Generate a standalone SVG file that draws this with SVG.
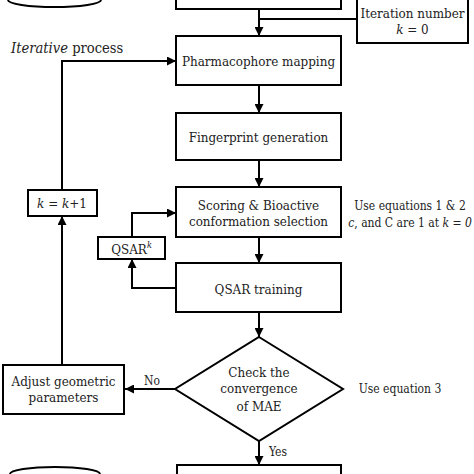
<svg xmlns="http://www.w3.org/2000/svg" width="474" height="474" viewBox="0 0 474 474">
<defs>
<marker id="ah" viewBox="0 0 10 10" refX="10" refY="5" markerWidth="9" markerHeight="9" markerUnits="userSpaceOnUse" orient="auto">
<path d="M0,0 L10,5 L0,10 Z" fill="#000"/>
</marker>
</defs>
<style>
.b{fill:#fff;stroke:#000;stroke-width:2}
text{font-family:'DejaVu Serif Condensed','DejaVu Serif',serif;font-stretch:condensed}
.t{font-size:13.3px;fill:#222;text-anchor:middle}
.s{font-size:12px;fill:#222;text-anchor:middle}
.l{text-anchor:start;font-size:14.6px}
.i{font-style:italic}
.c{fill:none;stroke:#000;stroke-width:2}
.a{fill:none;stroke:#000;stroke-width:2;marker-end:url(#ah)}
</style>
<rect width="474" height="474" fill="#fff"/>
<g id="connectors">
<path class="a" d="M259,9 V36"/>
<path class="c" d="M357,19 H259"/>
<path class="a" d="M259,85 V113"/>
<path class="a" d="M259,160 V187"/>
<path class="a" d="M259,237 V263"/>
<path class="a" d="M259,312 V337"/>
<path class="a" d="M259,441 V465"/>
<path class="a" d="M175,389 H125"/>
<path class="a" d="M62,365 V216"/>
<path class="a" d="M62,190 V61 H176"/>
<path class="a" d="M132,237 V213 H176"/>
<path class="a" d="M176,288 H132 V259"/>
<text class="s" x="152" y="385">No</text>
<text class="s" x="278" y="456">Yes</text>
</g>
<g id="start-db"><path class="b" d="M8,-12 V0 A46.5,7 0 0 0 101,0 V-12"/></g>
<g id="top-box"><rect class="b" x="176" y="-20" width="165" height="29"/></g>
<g id="iteration"><rect class="b" x="357" y="-10" width="111" height="53"/>
<text class="t" x="412.5" y="18">Iteration number</text>
<text class="t" x="412.5" y="34"><tspan class="i">k</tspan> = 0</text></g>
<g id="iterative-label"><text class="t l" x="11" y="53"><tspan class="i">Iterative</tspan> process</text></g>
<g id="pharmacophore"><rect class="b" x="176" y="36" width="165" height="49"/>
<text class="t" x="258.5" y="66">Pharmacophore mapping</text></g>
<g id="fingerprint"><rect class="b" x="176" y="113" width="165" height="47"/>
<text class="t" x="258.5" y="142">Fingerprint generation</text></g>
<g id="scoring"><rect class="b" x="176" y="187" width="165" height="50"/>
<text class="t" x="258.5" y="210">Scoring &amp; Bioactive</text>
<text class="t" x="258.5" y="226">conformation selection</text></g>
<g id="eq12"><text class="s" x="410" y="210">Use equations 1 &amp; 2</text>
<text class="s" x="410" y="227"><tspan class="i">c</tspan>, and C are 1 at <tspan class="i">k = 0</tspan></text></g>
<g id="kinc"><rect class="b" x="28" y="190" width="69" height="26"/>
<text class="t" x="62" y="208"><tspan class="i">k</tspan> = <tspan class="i">k</tspan>+1</text></g>
<g id="qsark"><rect class="b" x="98" y="237" width="67" height="22"/>
<text class="t" x="131.5" y="254">QSAR<tspan class="i" font-size="9" dy="-6">k</tspan></text></g>
<g id="qsar-training"><rect class="b" x="176" y="263" width="165" height="49"/>
<text class="t" x="258.5" y="294">QSAR training</text></g>
<g id="convergence"><path class="b" d="M259,337 L343,389 L259,441 L175,389 Z"/>
<text class="t" x="259" y="377">Check the</text>
<text class="t" x="259" y="393">convergence</text>
<text class="t" x="259" y="411">of MAE</text></g>
<g id="eq3"><text class="s" x="400" y="393">Use equation 3</text></g>
<g id="adjust"><rect class="b" x="3" y="365" width="121" height="49"/>
<text class="t" x="63.5" y="386">Adjust geometric</text>
<text class="t" x="63.5" y="402">parameters</text></g>
<g id="bottom-box"><rect class="b" x="177" y="465" width="164" height="30"/></g>
<g id="end-db"><ellipse class="b" cx="55" cy="474" rx="45" ry="7"/></g>
</svg>
